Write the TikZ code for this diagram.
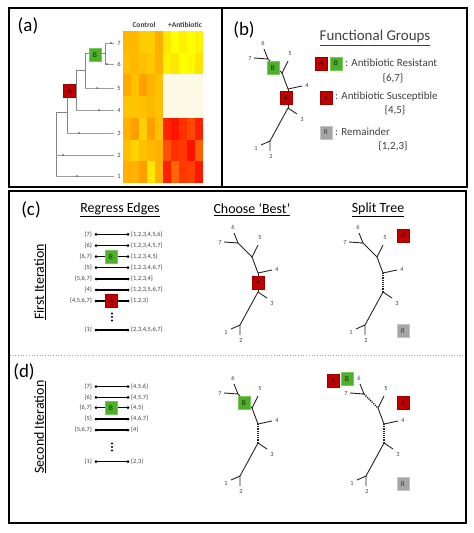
\documentclass[tikz,border=0pt]{standalone}
\usepackage{fontspec}
\setmainfont{Carlito}
\definecolor{boxred}{HTML}{C00000}
\definecolor{boxredd}{HTML}{9A0000}
\definecolor{boxgreen}{HTML}{4DAF2A}
\definecolor{boxgreenl}{HTML}{79C95A}
\definecolor{boxgray}{HTML}{A6A6A6}
\definecolor{boxgrayl}{HTML}{C4C4C4}
\definecolor{txtgray}{HTML}{404040}
\definecolor{cladegray}{HTML}{858585}
\newcommand\fsz[1]{\fontsize{#1}{#1}\selectfont}
\newcommand\hcell[3]{\definecolor{hc}{HTML}{#3}\fill[hc] ({123+8*(#1)},{31+21.72*(#2)}) rectangle ++(8.2,21.9);}
\tikzset{
  frame/.style={line width=2.6bp, draw=black},
  abox/.style={draw=boxredd, fill=boxred, line width=0.5bp, minimum width=12bp, minimum height=13bp, inner sep=0pt, font=\fsz{7.5}, text={rgb,255:red,60;green,0;blue,0}},
  bbox/.style={draw=boxgreenl, fill=boxgreen, line width=0.5bp, minimum width=12bp, minimum height=13bp, inner sep=0pt, font=\fsz{7.5}, text={rgb,255:red,20;green,50;blue,0}},
  rbox/.style={draw=boxgrayl, fill=boxgray, line width=0.5bp, minimum width=12bp, minimum height=13bp, inner sep=0pt, font=\fsz{7.5}, text=black!75},
  treeline/.style={line width=0.9bp, draw=black!85},
  solidedge/.style={},
  dashedge/.style={dash pattern=on 1.1bp off 1.1bp, line width=1.5bp},
  treelab/.style={font=\fsz{6.3}, text=txtgray, inner sep=0pt},
  clade/.style={line width=0.9bp, draw=cladegray},
  leafline/.style={line width=0.8bp, draw=cladegray!80},
  leaflab/.style={font=\fsz{6.5}, text=txtgray, inner sep=0pt},
  panellab/.style={font=\fsz{19}, inner sep=0pt},
  heading/.style={font=\fsz{14}, inner sep=0pt},
  listlab/.style={font=\fsz{6.4}, text=txtgray, inner sep=0pt},
  listline/.style={line width=1.1bp, draw=black},
  descr/.style={font=\fsz{11}, text=txtgray, inner sep=0pt},
}
\newcommand\treecoords[3]{%
  \begin{scope}[shift={(#2,#3)}]
    \coordinate (#1j1) at (-20,-30);
    \coordinate (#1l6) at (-24,-40);
    \coordinate (#1l7) at (-34,-31);
    \coordinate (#1j2) at (-6,-16);
    \coordinate (#1l5) at (0,-28);
    \coordinate (#1j3) at (0,0);
    \coordinate (#1l4) at (14,-3);
    \coordinate (#1j4) at (0,19);
    \coordinate (#1l3) at (9,25);
    \coordinate (#1j5) at (-18,52);
    \coordinate (#1l1) at (-27,56);
    \coordinate (#1l2) at (-18,62);
    \node[treelab] (#1t6) at (-25,-46) {6};
    \node[treelab] (#1t7) at (-38,-31) {7};
    \node[treelab] (#1t5) at (2,-35) {5};
    \node[treelab] (#1t4) at (19,-4) {4};
    \node[treelab] (#1t3) at (14,30) {3};
    \node[treelab] (#1t1) at (-32,59) {1};
    \node[treelab] (#1t2) at (-17,67) {2};
  \end{scope}}
\newcommand\treeedges[3]{%
  \draw[treeline] (#1j1)--(#1l6) (#1j1)--(#1l7) (#1j2)--(#1l5) (#1j2)--(#1j3)
    (#1j3)--(#1l4) (#1j4)--(#1l3) (#1j4)--(#1j5) (#1j5)--(#1l1) (#1j5)--(#1l2);
  \draw[treeline,#2] (#1j1)--(#1j2);
  \draw[treeline,#3] (#1j3)--(#1j4);}
\newcommand\regrow[4]{% name, y, left, right
  \coordinate (#1l) at (96,#2);
  \coordinate (#1r) at (128,#2);
  \draw[listline] (#1l)--(#1r);
  \fill (#1l) circle (1.5);
  \fill (#1r) circle (1.5);
  \node[listlab, anchor=east] (#1a) at (92,#2) {#3};
  \node[listlab, anchor=west] (#1b) at (131,#2) {#4};}
\begin{document}
\begin{tikzpicture}[x=1bp,y=-1bp]
\useasboundingbox (0,0) rectangle (474,533);
\fill[white] (0,0) rectangle (474,533);

% ---------------- panel (a) ----------------
\node[panellab] (la) at (28,26) {(a)};
\foreach \h [count=\c from 0] in {FFB800,FFB800,FFCC00,FFCC00,FFB000,FFE800,FFFF00,FFF000,FFFF00,FFF400} {\hcell{\c}{0}{\h}}
\foreach \h [count=\c from 0] in {FFC000,FFB800,FFC000,FFC800,FFB000,FFF000,FFE800,FFFF00,FFF800,FFE400} {\hcell{\c}{1}{\h}}
\foreach \h [count=\c from 0] in {FFA800,FFC000,FFA000,FFB400,FFC000,FFFAE6,FFFAE6,FFFAE6,FFFAE6,FFFAE6} {\hcell{\c}{2}{\h}}
\foreach \h [count=\c from 0] in {FFC400,FFC400,FFC000,FFB800,FFC000,FFFAE6,FFFAE6,FFFAE6,FFFAE6,FFFAE6} {\hcell{\c}{3}{\h}}
\foreach \h [count=\c from 0] in {FFB000,FFA000,FFD000,FFA000,FFC000,FF2400,FF1400,FF3000,FF4800,FF2000} {\hcell{\c}{4}{\h}}
\foreach \h [count=\c from 0] in {FFC000,FFD400,FFC000,FFB800,FFB000,FF5000,FF3000,FF3800,FF1000,FF6000} {\hcell{\c}{5}{\h}}
\foreach \h [count=\c from 0] in {FFB000,FFB000,FFA000,FFE800,FFB000,FF2000,FF6800,FF3800,FF4000,FF1800} {\hcell{\c}{6}{\h}}
\node[font=\fsz{7.5}\bfseries, text=txtgray, inner sep=0pt] (hctrl) at (144,25) {Control};
\node[font=\fsz{7.5}\bfseries, text=txtgray, inner sep=0pt] (hanti) at (185,25) {+Antibiotic};
% cladogram
\coordinate (r0) at (56,112);
\coordinate (nA) at (67,112);
\coordinate (nC) at (76,90);
\coordinate (nD) at (85,70);
\coordinate (nE) at (105,53);
\foreach \n/\y in {7/43,6/64,5/88,4/110,3/133,2/155,1/176} {
  \coordinate (e\n) at (114,\y);
  \node[leaflab] (k\n) at (119,\y) {\n};
}
\draw[clade] (56,112) -- (56,176);
\draw[clade] (r0) -- (nA);
\draw[clade] (67,90) -- (67,133);
\draw[clade] (67,90) -- (nC);
\draw[clade] (76,70) -- (76,110);
\draw[clade] (76,70) -- (nD);
\draw[clade] (85,53) -- (85,88);
\draw[clade] (85,53) -- (nE);
\draw[clade] (105,43) -- (105,64);
\draw[leafline] (105,43) -- (e7);
\draw[leafline] (105,64) -- (e6);
\draw[leafline] (85,88) -- (e5);
\draw[leafline] (76,110) -- (e4);
\draw[leafline] (67,133) -- (e3);
\draw[leafline] (56,155) -- (e2);
\draw[leafline] (56,176) -- (e1);
\foreach \x/\y in {111/43,107/64,97/88,99/110,79/133,63/155,77/176}
  \fill[black!70] (\x,\y) circle (0.9);
\node[abox] (aA) at (69.5,91) {A};
\node[bbox] (aB) at (95,55) {B};

% ---------------- panel (b) ----------------
\node[panellab] (lb) at (244,30) {(b)};
\treecoords{b}{288}{89}
\treeedges{b}{solidedge}{solidedge}
\node[bbox] (bB) at (273,68) {B};
\node[abox] (bA) at (286,98) {A};
\node[font=\fsz{15}, text=txtgray, inner sep=0pt] (fg) at (375,38) {\underline{Functional Groups}};
\node[abox] (kA1) at (321.5,63.5) {A};
\node[bbox] (kB1) at (336,63.5) {B};
\node[descr, anchor=west] (d1) at (345,63) {: Antibiotic Resistant};
\node[descr] (s1) at (393,78) {\{6,7\}};
\node[abox] (kA2) at (326,98) {A};
\node[descr, anchor=west] (d2) at (335,97) {: Antibiotic Susceptible};
\node[descr] (s2) at (395,110.5) {\{4,5\}};
\node[rbox] (kR) at (326,132.5) {R};
\node[descr, anchor=west] (d3) at (335,132) {: Remainder};
\node[descr] (s3) at (393,146) {\{1,2,3\}};

% ---------------- panel (c) ----------------
\node[panellab] (lc) at (31,210) {(c)};
\node[heading] (h1) at (120,210) {\underline{Regress Edges}};
\node[heading] (h2) at (252,210) {\underline{Choose ‘Best’}};
\node[heading] (h3) at (378,210) {\underline{Split Tree}};
\node[heading, rotate=90] (it1) at (40,282) {\underline{First Iteration}};
\regrow{c1}{234.3}{\{7\}}{\{1,2,3,4,5,6\}}
\regrow{c2}{245.7}{\{6\}}{\{1,2,3,4,5,7\}}
\regrow{c3}{256.7}{\{6,7\}}{\{1,2,3,4,5\}}
\regrow{c4}{267.7}{\{5\}}{\{1,2,3,4,6,7\}}
\regrow{c5}{279}{\{5,6,7\}}{\{1,2,3,4\}}
\regrow{c6}{290}{\{4\}}{\{1,2,3,5,6,7\}}
\regrow{c7}{301}{\{4,5,6,7\}}{\{1,2,3\}}
\regrow{c8}{330}{\{1\}}{\{2,3,4,5,6,7\}}
\node[bbox] (cB) at (111,256.7) {B};
\node[abox] (cA) at (111,301) {A};
\foreach \y in {313.5,317,320.5} \fill (112,\y) circle (1.1);
\treecoords{p}{258}{273}
\treeedges{p}{solidedge}{solidedge}
\node[abox] (pA) at (258,282.5) {A};
\treecoords{q}{383}{273}
\treeedges{q}{solidedge}{dashedge}
\node[abox] (qA) at (403,235.5) {A};
\node[rbox] (qR) at (403,331) {R};

\draw[gray!70, dotted, line width=0.7bp] (10,355) -- (464,355);

% ---------------- panel (d) ----------------
\node[panellab] (ld) at (24,372) {(d)};
\node[heading, rotate=90] (it2) at (40,427) {\underline{Second Iteration}};
\regrow{d1}{386.7}{\{7\}}{\{4,5,6\}}
\regrow{d2}{397.3}{\{6\}}{\{4,5,7\}}
\regrow{d3}{407.7}{\{6,7\}}{\{4,5\}}
\regrow{d4}{419}{\{5\}}{\{4,6,7\}}
\regrow{d5}{430}{\{5,6,7\}}{\{4\}}
\regrow{d6}{461.7}{\{1\}}{\{2,3\}}
\node[bbox] (dB) at (111,407.7) {B};
\foreach \y in {443.5,447,450.5} \fill (112,\y) circle (1.1);
\treecoords{s}{258}{424}
\treeedges{s}{solidedge}{dashedge}
\node[bbox] (sB) at (244,403) {B};
\treecoords{t}{384}{424}
\treeedges{t}{dashedge}{dashedge}
\node[abox] (tA1) at (333,381) {A};
\node[bbox] (tB) at (347,379) {B};
\node[abox] (tA2) at (403,403) {A};
\node[rbox] (tR) at (403,484) {R};

% ---------------- frames ----------------
\draw[frame] (9,8) rectangle (222,187);
\draw[frame] (222,8) rectangle (467,187);
\draw[frame] (9,191) rectangle (466,523);
\end{tikzpicture}
\end{document}
